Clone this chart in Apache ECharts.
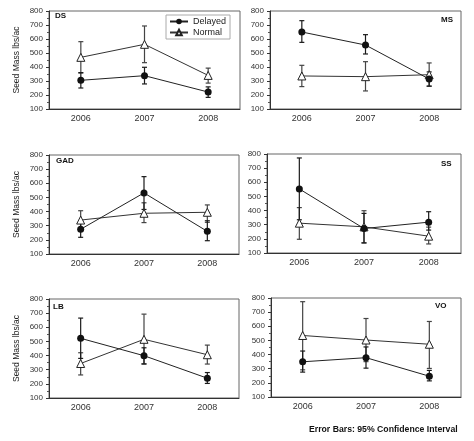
<!DOCTYPE html>
<html>
<head>
<meta charset="utf-8">
<script src="https://cdn.jsdelivr.net/npm/echarts@6/dist/echarts.min.js"></script>
<style>
  html, body { margin: 0; padding: 0; background: #fff; }
  #main { width: 474px; height: 441px; }
</style>
</head>
<body>
<div id="main"></div>
<script>
// categories and panels
var years = ['2006', '2007', '2008'];
var panels = ['DS', 'MS', 'GAD', 'SS', 'LB', 'VO'];
var yTicks = [100, 200, 300, 400, 500, 600, 700, 800];

// means per panel (DS, MS, GAD, SS, LB, VO)
var delayedMean = [[305, 338, 221], [650, 557, 314], [275, 532, 260], [553, 273, 318], [522, 399, 240], [349, 378, 247]];
var normalMean  = [[469, 562, 340], [336, 331, 345], [340, 388, 395], [311, 285, 219], [344, 515, 406], [535, 503, 473]];

// 95% confidence interval bounds
var delayedLow  = [[250, 279, 183], [576, 493, 264], [218, 415, 194], [335, 171, 262], [380, 340, 203], [276, 304, 214]];
var delayedHigh = [[360, 398, 258], [731, 631, 365], [335, 647, 335], [772, 380, 392], [665, 455, 280], [425, 454, 288]];
var normalLow   = [[357, 431, 285], [260, 229, 262], [282, 322, 324], [197, 172, 164], [263, 342, 340], [292, 350, 302]];
var normalHigh  = [[581, 693, 392], [412, 438, 429], [406, 462, 447], [421, 399, 283], [420, 693, 474], [774, 655, 634]];

var font = 'Liberation Sans, Arial, sans-serif';

// grid boxes in pixels
var grids = [
  { left: 49, top: 11, width: 191, height: 98 },
  { left: 270, top: 11, width: 191, height: 98 },
  { left: 49, top: 155, width: 190, height: 99 },
  { left: 267, top: 154, width: 194, height: 99 },
  { left: 49, top: 299, width: 190, height: 99 },
  { left: 271, top: 298, width: 190, height: 99 }
];
// panel label positions
var labelPos = [
  { left: 55, top: 12 }, { left: 441, top: 16 },
  { left: 56, top: 157 }, { left: 441, top: 160 },
  { left: 53, top: 303 }, { left: 435, top: 302 }
];

function errorBars(lo, hi) {
  return lo.map(function (v, i) { return [i, v, hi[i]]; });
}

function renderBar(params, api) {
  var x = api.value(0);
  var a = api.coord([x, api.value(1)]);
  var b = api.coord([x, api.value(2)]);
  var w = 2.5;
  var st = { stroke: params.seriesName === 'errD' ? '#1a1a1a' : '#444', lineWidth: 1.2 };
  return {
    type: 'group',
    children: [
      { type: 'line', shape: { x1: a[0], y1: a[1], x2: b[0], y2: b[1] }, style: st },
      { type: 'line', shape: { x1: a[0] - w, y1: a[1], x2: a[0] + w, y2: a[1] }, style: st },
      { type: 'line', shape: { x1: b[0] - w, y1: b[1], x2: b[0] + w, y2: b[1] }, style: st }
    ]
  };
}

var grid = [], xAxis = [], yAxis = [], series = [], title = [];

panels.forEach(function (p, k) {
  var g = grids[k];
  grid.push({ left: g.left, top: g.top, width: g.width, height: g.height,
    show: true, borderColor: '#666', borderWidth: 1, backgroundColor: 'transparent' });

  xAxis.push({
    type: 'category', gridIndex: k, data: years, boundaryGap: true,
    axisLine: { lineStyle: { color: '#333', width: 1 } },
    axisTick: { alignWithLabel: true, length: 4, lineStyle: { color: '#333' } },
    axisLabel: { fontSize: 9, color: '#333', fontFamily: font, margin: 5 },
    splitLine: { show: false }
  });

  yAxis.push({
    type: 'value', gridIndex: k, min: yTicks[0], max: yTicks[yTicks.length - 1], interval: 100,
    name: k % 2 === 0 ? 'Seed Mass lbs/ac' : '',
    nameLocation: 'middle', nameGap: 28,
    nameTextStyle: { fontSize: 8.5, color: '#222', fontFamily: font },
    axisLine: { show: true, lineStyle: { color: '#333', width: 1 } },
    axisTick: { show: true, length: 3, lineStyle: { color: '#333' } },
    minorTick: { show: true, splitNumber: 2, length: 2, lineStyle: { color: '#555' } },
    axisLabel: { fontSize: 8, color: '#333', fontFamily: font, margin: 6 },
    splitLine: { show: false }
  });

  title.push({
    text: p, left: labelPos[k].left, top: labelPos[k].top, padding: 0,
    textStyle: { fontSize: 8, fontWeight: 'bold', color: '#111', fontFamily: font }
  });

  series.push({
    name: 'errN', type: 'custom', xAxisIndex: k, yAxisIndex: k,
    renderItem: renderBar, data: errorBars(normalLow[k], normalHigh[k]), z: 2, silent: true
  });
  series.push({
    name: 'errD', type: 'custom', xAxisIndex: k, yAxisIndex: k,
    renderItem: renderBar, data: errorBars(delayedLow[k], delayedHigh[k]), z: 2, silent: true
  });
  series.push({
    name: 'Normal', type: 'line', xAxisIndex: k, yAxisIndex: k, data: normalMean[k],
    symbol: 'triangle', symbolSize: 8, z: 3,
    lineStyle: { color: '#333', width: 1 },
    itemStyle: { color: '#fff', borderColor: '#222', borderWidth: 1 }
  });
  series.push({
    name: 'Delayed', type: 'line', xAxisIndex: k, yAxisIndex: k, data: delayedMean[k],
    symbol: 'circle', symbolSize: 7, z: 4,
    lineStyle: { color: '#222', width: 1 },
    itemStyle: { color: '#111', borderColor: '#111', borderWidth: 0 }
  });
});

title.push({
  text: 'Error Bars: 95% Confidence Interval', left: 309, top: 425, padding: 0,
  textStyle: { fontSize: 8.7, fontWeight: 'bold', color: '#111', fontFamily: font }
});

var chart = echarts.init(document.getElementById('main'), null, { renderer: 'canvas' });
var option = {
  animation: false,
  backgroundColor: '#fff',
  title: title,
  legend: {
    data: ['Delayed', 'Normal'],
    orient: 'vertical', left: 166, top: 15,
    itemWidth: 18, itemHeight: 7, itemGap: 2,
    padding: [2, 4, 2, 3],
    borderColor: '#aaa', borderWidth: 1, backgroundColor: '#fff',
    textStyle: { fontSize: 9, color: '#222', fontFamily: font }
  },
  grid: grid,
  xAxis: xAxis,
  yAxis: yAxis,
  series: series
};
option && chart.setOption(option);
</script>
</body>
</html>
